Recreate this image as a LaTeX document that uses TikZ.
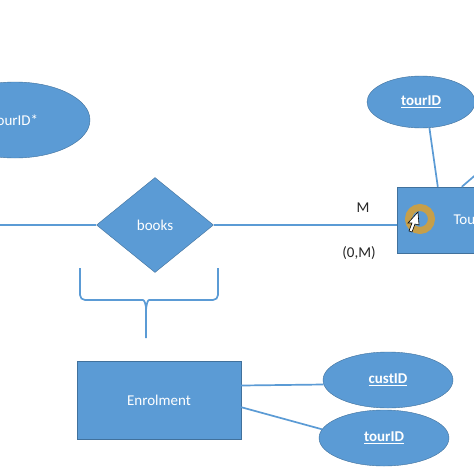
\documentclass[tikz,border=0pt]{standalone}
\usepackage{xcolor}
\usepackage{fontspec}
\setmainfont{Carlito}
\usepackage{tikz}
\usetikzlibrary{shapes.geometric,calc}

\definecolor{erblue}{HTML}{5B9BD5}
\definecolor{erborder}{HTML}{41719C}
\definecolor{ringorange}{HTML}{D9A032}
\newcommand{\erfont}{\fontsize{15}{18}\selectfont}

\tikzset{
    entity/.style={rectangle, draw=erborder, fill=erblue, text=white, inner sep=0pt, font=\erfont},
    attrib/.style={ellipse, draw=erborder, fill=erblue, text=white, inner sep=0pt, font=\erfont},
    relship/.style={diamond, draw=erborder, fill=erblue, text=white, inner sep=0pt, font=\erfont},
    link/.style={draw=erblue, line width=1.7pt},
    card/.style={text=black!85, font=\erfont}
}

\begin{document}
\begin{tikzpicture}[x=1pt, y=-1pt]
    \useasboundingbox (0,0) rectangle (474,474);
    \fill[white] (0,0) rectangle (474,474);
    \clip (0,0) rectangle (474,474);

    % Connector ends outside the frame
    \coordinate (leftend) at (-20,225);
    \coordinate (rightattr) at (494,159);

    % Attributes
    \node[attrib, minimum width=150, minimum height=76] (tourstar) at (15,120) {tourID*};
    \node[attrib, minimum width=108, minimum height=52] (tourkey) at (421,102) {\textbf{\underline{tourID}}};
    \node[attrib, minimum width=130, minimum height=56] (custkey) at (388,380) {\textbf{\underline{custID}}};
    \node[attrib, minimum width=130, minimum height=56] (tourkeyb) at (384,438) {\textbf{\underline{tourID}}};

    % Entities and relationship
    \node[relship, minimum width=117, minimum height=95] (books) at (155,225) {books};
    \node[entity, minimum width=140, minimum height=66] (tour) at (467,220) {Tour};
    \node[entity, minimum width=164, minimum height=78] (enrol) at (159,400) {Enrolment};

    % Connectors
    \draw[link] (leftend) -- (books.west);
    \draw[link] (books.east) -- (tour.west |- books.east);
    \draw[link] (tourkey.-72) -- ($(tour.north west)+(41,0)$);
    \draw[link] ($(tour.north west)+(65,0)$) -- (rightattr);
    \draw[link] (enrol.10) -- (custkey.184);
    \draw[link] (enrol.-5) -- (tourkeyb.172);

    % Cardinalities
    \node[card] (mlabel) at (363,208) {M};
    \node[card] (zmlabel) at (359,253) {(0,M)};

    % Brace under the relationship
    \draw[link, rounded corners=5] (80,268) -- (80,300) -- (138,300) .. controls (144,300) and (146,304) .. (146,312) -- (146,338);
    \draw[link, rounded corners=5] (218,268) -- (218,300) -- (154,300) .. controls (148,300) and (146,304) .. (146,312);

    % Pointer highlight
    \draw[ringorange, line width=7pt, opacity=0.85] (420,219) circle (11.5);
    \draw[black, fill=white, line width=0.6pt] (418,212) -- (408,223) -- (412,223) -- (409,231) -- (412,232) -- (415,224) -- (419,225) -- cycle;
\end{tikzpicture}
\end{document}
